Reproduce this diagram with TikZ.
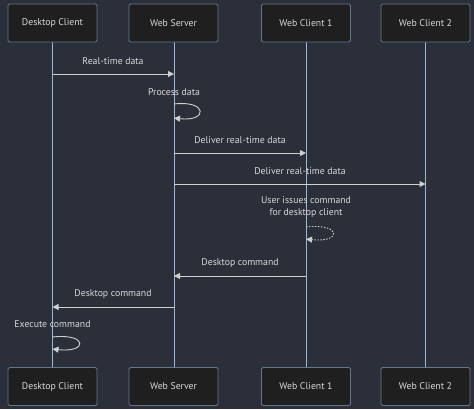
\documentclass[tikz,border=0pt]{standalone}
\usepackage{fontspec}
\setmainfont{PT Sans}
\usetikzlibrary{arrows.meta}
\definecolor{bg}{HTML}{2A2F3A}
\definecolor{boxfill}{HTML}{1F1F1F}
\definecolor{boxline}{HTML}{62788F}
\definecolor{lifeln}{HTML}{9DB7D6}
\definecolor{txt}{HTML}{D8D8D8}
\definecolor{msgln}{HTML}{D0D0D0}
\tikzset{
  actor/.style={draw=boxline, line width=0.8pt, rounded corners=1.5bp, fill=boxfill, minimum width=89bp, minimum height=38bp, inner sep=0pt, text=txt, font=\fontsize{9.8}{11}\selectfont},
  life/.style={draw=lifeln, line width=1pt},
  msg/.style={draw=msgln, line width=0.9pt, -{Triangle[length=6bp,width=6bp]}},
  msgd/.style={msg, dash pattern=on 1.5pt off 1.5pt},
  lbl/.style={text=txt, font=\fontsize{9.8}{11.5}\selectfont, inner sep=0pt, align=center}
}
\begin{document}
\begin{tikzpicture}[x=1bp,y=-1bp]
\fill[bg] (0,0) rectangle (474,409);
\useasboundingbox (0,0) rectangle (474,409);
% lifelines
\coordinate (dcT) at (52.5,42); \coordinate (dcB) at (52.5,367);
\coordinate (wsT) at (174,42); \coordinate (wsB) at (174,367);
\coordinate (w1T) at (306,42); \coordinate (w1B) at (306,367);
\coordinate (w2T) at (425.5,42); \coordinate (w2B) at (425.5,367);
\draw[life] (dcT) -- (dcB);
\draw[life] (wsT) -- (wsB);
\draw[life] (w1T) -- (w1B);
\draw[life] (w2T) -- (w2B);
% actors
\node[actor] (dc) at (52.5,23) {Desktop Client};
\node[actor] (ws) at (173.5,23) {Web Server};
\node[actor] (w1) at (306,23) {Web Client 1};
\node[actor] (w2) at (425.5,23) {Web Client 2};
\node[actor] (dc2) at (52.5,386.5) {Desktop Client};
\node[actor] (ws2) at (173.5,386.5) {Web Server};
\node[actor] (w12) at (306,386.5) {Web Client 1};
\node[actor] (w22) at (425.5,386.5) {Web Client 2};
% messages
\coordinate (m1a) at (52.5,74); \coordinate (m1b) at (174,74);
\node[lbl] (l1) at (113,61) {Real-time data};
\draw[msg] (m1a) -- (m1b);

\node[lbl] (l2) at (174,92) {Process data};
\coordinate (m2a) at (174,104); \coordinate (m2b) at (174,118);
\draw[msg] (m2a) .. controls (208,100) and (208,122) .. (m2b);

\coordinate (m3a) at (174,153); \coordinate (m3b) at (306,153);
\node[lbl] (l3) at (240,140) {Deliver real-time data};
\draw[msg] (m3a) -- (m3b);

\coordinate (m4a) at (174,184); \coordinate (m4b) at (425.5,184);
\node[lbl] (l4) at (300,171) {Deliver real-time data};
\draw[msg] (m4a) -- (m4b);

\node[lbl] (l5) at (306,207) {User issues command\\for desktop client};
\coordinate (m5a) at (306,227); \coordinate (m5b) at (306,239);
\draw[msgd] (m5a) .. controls (342,223) and (342,243) .. (m5b);

\coordinate (m6a) at (306,276); \coordinate (m6b) at (174,276);
\node[lbl] (l6) at (240,263) {Desktop command};
\draw[msg] (m6a) -- (m6b);

\coordinate (m7a) at (174,307); \coordinate (m7b) at (52.5,307);
\node[lbl] (l7) at (113,294) {Desktop command};
\draw[msg] (m7a) -- (m7b);

\node[lbl] (l8) at (52.5,324) {Execute command};
\coordinate (m8a) at (52.5,337); \coordinate (m8b) at (52.5,349);
\draw[msg] (m8a) .. controls (88,333) and (88,353) .. (m8b);
\end{tikzpicture}
\end{document}
